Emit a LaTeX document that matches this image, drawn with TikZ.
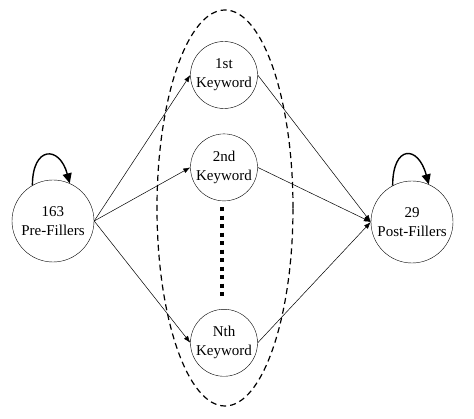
\documentclass[tikz,border=0pt]{standalone}
\usepackage{fontspec}
\setmainfont{Liberation Serif}
\usepackage{tikz}
\usetikzlibrary{arrows,arrows.meta,calc}
\usetikzlibrary{positioning,fit}
\usetikzlibrary{shapes.geometric}

\tikzset{
  state/.style={draw, circle, inner sep=0pt, align=center, font=\fontsize{15}{19}\selectfont},
  kwstate/.style={state, minimum size=67pt},
  fillstate/.style={state, minimum size=82pt},
  trans/.style={-{Latex[length=7pt,width=5pt]}, line width=0.5pt},
  selfloop/.style={-{Triangle[length=10pt,width=9pt]}, line width=1.4pt}
}

\begin{document}
\begin{tikzpicture}[x=1pt, y=1pt, node distance=25pt]
                \useasboundingbox (0,0) rectangle (474,419);
                % Keyword states
                \node[kwstate] (k1) at (224,344) {1st\\Keyword};
                \node[kwstate, below=of k1] (k2) {2nd\\Keyword};
                \node[kwstate, below=108pt of k2] (kn) {Nth\\Keyword};
                
                % Filler states
                \node[fillstate] (pre) at (53,198) {163\\Pre-Fillers};
                \node[fillstate] (post) at (412,197) {29\\Post-Fillers};
                
                % Dashed group round the keywords
                \node[draw, dashed, line width=1.2pt, dash pattern=on 6pt off 4pt, ellipse, minimum width=136pt, minimum height=396pt] (group) at (225,211) {};
                
                % Omitted keywords
                \coordinate (dtop) at ($(k2.south)+(-2,-6)$);
                \coordinate (dbot) at ($(kn.north)+(-2,10)$);
                \draw[line width=4pt, dash pattern=on 4pt off 4.5pt] (dtop) -- (dbot);
                
                % Transitions
                \draw[trans] (pre.east) -- (k1.west);
                \draw[trans] (pre.east) -- (k2.west);
                \draw[trans] (pre.east) -- (kn.west);
                \draw[trans] (k1.east) -- (post.west);
                \draw[trans] (k2.east) -- (post.west);
                \draw[trans] (kn.east) -- (post.west);
                
                % Self loops
                \draw[selfloop] (pre.120) to[out=90, in=105, looseness=2.7] (pre.66);
                \draw[selfloop] (post.118) to[out=90, in=105, looseness=2.9] (post.66);
            \end{tikzpicture}
\end{document}
